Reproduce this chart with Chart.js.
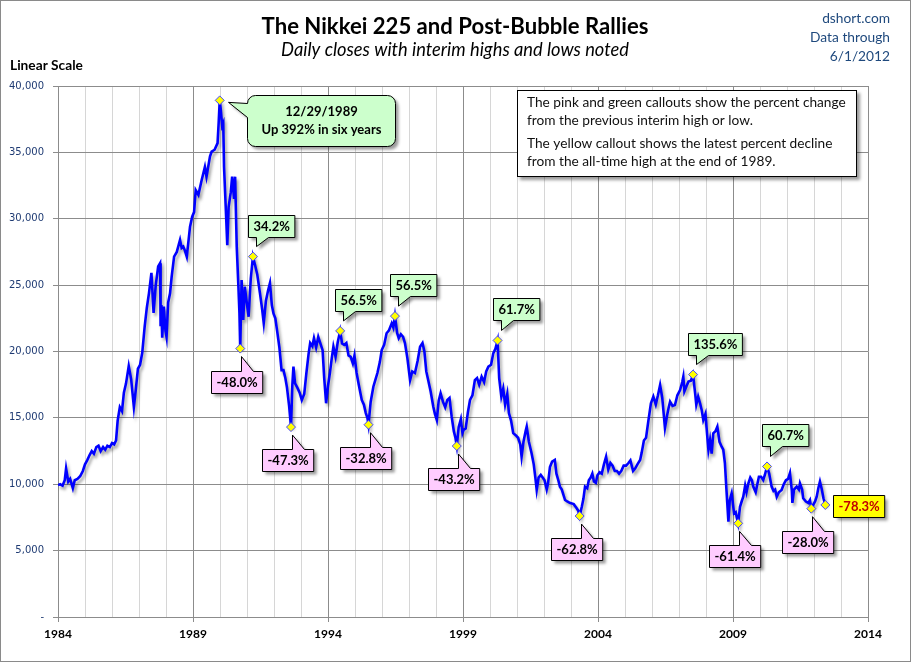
<!DOCTYPE html>
<html>
<head>
<meta charset="utf-8">
<title>The Nikkei 225 and Post-Bubble Rallies</title>
<script src="https://cdn.jsdelivr.net/npm/chart.js@4.4.1/dist/chart.umd.min.js"></script>
<style>
    html, body { margin: 0; padding: 0; background: #fff; }
    canvas { display: block; }
</style>
</head>
<body>
<canvas id="nikkeiChart" width="911" height="662"></canvas>
<script>
// Nikkei 225 closes (decimal year, index level)
const dates = [
    1984.00, 1984.08, 1984.17, 1984.25, 1984.30, 1984.38, 1984.45, 1984.55, 1984.62, 1984.72, 1984.82, 1984.92,
    1985.00, 1985.08, 1985.17, 1985.25, 1985.33, 1985.42, 1985.50, 1985.58, 1985.67, 1985.75, 1985.83, 1985.92,
    1986.00, 1986.08, 1986.15, 1986.21, 1986.29, 1986.37, 1986.44, 1986.52, 1986.62, 1986.71, 1986.81, 1986.88, 1986.96,
    1987.04, 1987.12, 1987.21, 1987.29, 1987.37, 1987.46, 1987.54, 1987.62, 1987.71, 1987.78, 1987.80, 1987.83, 1987.86, 1987.92, 1987.98,
    1988.02, 1988.08, 1988.15, 1988.21, 1988.30, 1988.40, 1988.52, 1988.58, 1988.64, 1988.70, 1988.77, 1988.89, 1988.97,
    1989.04, 1989.10, 1989.20, 1989.32, 1989.44, 1989.50, 1989.63, 1989.69, 1989.80, 1989.91, 1989.95, 1989.99,
    1990.03, 1990.08, 1990.12, 1990.15, 1990.21, 1990.27, 1990.32, 1990.40, 1990.45, 1990.52, 1990.56, 1990.62, 1990.68, 1990.72, 1990.75, 1990.80, 1990.86, 1990.92, 1990.98,
    1991.06, 1991.14, 1991.22, 1991.30, 1991.38, 1991.48, 1991.56, 1991.62, 1991.70, 1991.78, 1991.85, 1991.92, 1991.98,
    1992.05, 1992.12, 1992.20, 1992.28, 1992.35, 1992.42, 1992.48, 1992.56, 1992.63, 1992.68, 1992.72, 1992.78, 1992.86, 1992.95,
    1993.03, 1993.12, 1993.20, 1993.28, 1993.34, 1993.42, 1993.48, 1993.56, 1993.64, 1993.72, 1993.80, 1993.86, 1993.93,
    1994.00, 1994.07, 1994.14, 1994.20, 1994.28, 1994.36, 1994.45, 1994.52, 1994.60, 1994.68, 1994.76, 1994.84, 1994.92, 1994.98,
    1995.06, 1995.14, 1995.25, 1995.33, 1995.40, 1995.46, 1995.50, 1995.58, 1995.68, 1995.76, 1995.83, 1995.92, 1995.99,
    1996.08, 1996.17, 1996.26, 1996.36, 1996.42, 1996.48, 1996.56, 1996.62, 1996.70, 1996.78, 1996.85, 1996.94,
    1997.04, 1997.12, 1997.22, 1997.32, 1997.41, 1997.50, 1997.57, 1997.64, 1997.71, 1997.80, 1997.90, 1997.96,
    1998.03, 1998.10, 1998.17, 1998.26, 1998.34, 1998.42, 1998.50, 1998.58, 1998.66, 1998.72, 1998.77, 1998.84, 1998.92, 1998.98,
    1999.02, 1999.10, 1999.18, 1999.26, 1999.35, 1999.44, 1999.52, 1999.60, 1999.69, 1999.78, 1999.86, 1999.94,
    2000.04, 2000.12, 2000.20, 2000.28, 2000.34, 2000.42, 2000.49, 2000.56, 2000.64, 2000.70, 2000.78, 2000.86, 2000.95,
    2001.04, 2001.12, 2001.17, 2001.24, 2001.32, 2001.36, 2001.44, 2001.54, 2001.62, 2001.68, 2001.73, 2001.80, 2001.88, 2001.95,
    2002.02, 2002.10, 2002.15, 2002.22, 2002.30, 2002.40, 2002.46, 2002.53, 2002.59, 2002.66, 2002.72, 2002.78, 2002.86, 2002.95,
    2003.03, 2003.10, 2003.21, 2003.27, 2003.32, 2003.40, 2003.46, 2003.52, 2003.60, 2003.66, 2003.73, 2003.79, 2003.85, 2003.92, 2003.98,
    2004.06, 2004.14, 2004.22, 2004.30, 2004.38, 2004.46, 2004.54, 2004.62, 2004.70, 2004.78, 2004.86, 2004.95,
    2005.04, 2005.12, 2005.20, 2005.30, 2005.38, 2005.46, 2005.56, 2005.62, 2005.70, 2005.78, 2005.86, 2005.96,
    2006.05, 2006.14, 2006.22, 2006.30, 2006.38, 2006.48, 2006.56, 2006.62, 2006.67, 2006.76, 2006.85, 2006.94,
    2007.04, 2007.12, 2007.16, 2007.20, 2007.28, 2007.35, 2007.44, 2007.52, 2007.60, 2007.64, 2007.71, 2007.78, 2007.84, 2007.90, 2007.98,
    2008.04, 2008.09, 2008.15, 2008.21, 2008.27, 2008.35, 2008.42, 2008.50, 2008.58, 2008.64, 2008.70, 2008.76, 2008.83, 2008.88, 2008.95,
    2009.04, 2009.10, 2009.19, 2009.26, 2009.32, 2009.38, 2009.45, 2009.50, 2009.57, 2009.64, 2009.70, 2009.75, 2009.84, 2009.90, 2009.96,
    2010.04, 2010.12, 2010.18, 2010.26, 2010.34, 2010.43, 2010.50, 2010.56, 2010.62, 2010.70, 2010.80, 2010.88, 2010.96,
    2011.04, 2011.11, 2011.18, 2011.20, 2011.26, 2011.36, 2011.44, 2011.48, 2011.56, 2011.60, 2011.70, 2011.79, 2011.85, 2011.90, 2011.97,
    2012.04, 2012.10, 2012.16, 2012.22, 2012.29, 2012.35, 2012.42
];

const closes = [
    9930, 10000, 9900, 10300, 11190, 10200, 10400, 9703, 10300, 10400, 10600, 11000,
    11500, 11800, 12200, 12500, 12300, 12800, 12900, 12500, 12800, 12600, 12900, 12800,
    13100, 13000, 13300, 14800, 15800, 15500, 16900, 17600, 18900, 17900, 15820, 17100, 18700,
    19000, 19900, 21870, 23300, 24400, 25929, 22900, 25000, 26400, 26646, 21910, 23500, 21036, 23380, 21564,
    21100, 23700, 24380, 25640, 27140, 27500, 28400, 27800, 27900, 27600, 27140, 29400, 30150,
    30500, 32160, 31800, 32900, 33900, 33170, 34700, 35050, 35200, 35700, 37200, 38916,
    38200, 37000, 37200, 33900, 31000, 28002, 30900, 32000, 33170, 31500, 33170, 27900, 25000, 22900, 20222, 25390, 22370, 24880, 23849,
    22620, 25500, 27147, 26500, 25800, 24400, 23200, 22140, 23800, 24600, 25160, 23500, 22870,
    22500, 21500, 20300, 18600, 18600, 18000, 17300, 15900, 14309, 17500, 18860, 17600, 17300, 16900,
    16350, 16800, 18380, 19800, 20640, 20400, 21000, 20300, 21100, 20600, 20100, 18000, 16100,
    17400, 18380, 19500, 20360, 19600, 20700, 21552, 20600, 20500, 20640, 19700, 19600, 19100, 19700,
    18380, 17500, 16350, 16000, 15360, 15000, 14485, 16200, 17350, 17900, 18380, 19200, 20110,
    20500, 21370, 21600, 22120, 21800, 22666, 21400, 21000, 21300, 21110, 20640, 19500,
    17850, 18500, 18380, 19300, 20360, 20640, 20000, 18500, 17850, 17000, 15840, 15300,
    14840, 16300, 16850, 16200, 15800, 16350, 16500, 15090, 14000, 13500, 12880, 14300, 14900, 13850,
    14090, 14200, 15400, 16350, 16700, 17850, 18000, 17500, 18100, 17700, 18500, 18860,
    19000, 19860, 20200, 20833, 18000, 16600, 17200, 16000, 16800, 15360, 14800, 13850, 13700,
    13500, 13000, 12080, 13200, 14000, 14340, 13200, 12330, 11500, 10500, 9570, 10500, 10700, 10500,
    10300, 9600, 10070, 11300, 11700, 11830, 10800, 10300, 9820, 9600, 9200, 8810, 8700, 8600,
    8560, 8500, 8190, 8000, 7607, 8300, 8900, 9820, 9700, 10300, 10500, 10800, 10200, 10100, 10677,
    10900, 10800, 11500, 12080, 11100, 11600, 11400, 11000, 11000, 10800, 11000, 11400,
    11400, 11580, 11800, 11000, 11200, 11500, 11830, 12400, 13300, 13500, 14700, 16100,
    16600, 16000, 16700, 17480, 16500, 14240, 15200, 15800, 16220, 15900, 15970, 16700,
    17100, 17700, 18100, 17000, 17400, 17730, 17800, 18262, 16800, 16000, 16600, 16100, 15600, 14840, 15300,
    13800, 12580, 13330, 12300, 13840, 14000, 14340, 13200, 12830, 12600, 11600, 9500, 7180, 8800, 9320,
    7810, 7900, 7055, 8300, 8700, 9060, 9900, 9400, 10070, 10500, 10300, 9820, 9400, 10000, 10570,
    10570, 10320, 10700, 11339, 10800, 9820, 9500, 9600, 9060, 9400, 9570, 10000, 10300,
    10400, 10850, 9500, 8600, 9600, 9820, 9600, 10070, 9600, 8940, 8700, 8590, 8800, 8160, 8450,
    8700, 9060, 9700, 10200, 9600, 8940, 8440
];

// Interim highs and lows (yellow diamonds) and their callout texts
const markerDates = [1989.99, 1990.75, 1991.22, 1992.63, 1994.45, 1995.50, 1996.48, 1998.77, 2000.28, 2003.32, 2007.52, 2009.19, 2010.26, 2011.90, 2012.42];
const markerCloses = [38916, 20222, 27147, 14309, 21552, 14485, 22666, 12880, 20833, 7607, 18262, 7055, 11339, 8160, 8440];
const markerLabels = ['12/29/1989|Up 392% in six years', '-48.0%', '34.2%', '-47.3%', '56.5%', '-32.8%', '56.5%', '-43.2%', '61.7%', '-62.8%', '135.6%', '-61.4%', '60.7%', '-28.0%', '-78.3%'];
const markerKinds = ['peak', 'low', 'high', 'low', 'high', 'low', 'high', 'low', 'high', 'low', 'high', 'low', 'high', 'low', 'latest'];

// Years that carry a label and a darker grid line
const labelYears = [1984, 1989, 1994, 1999, 2004, 2009, 2014];

const infoLines = [
    'The pink and green callouts show the percent change',
    'from the previous interim high or low.',
    'The yellow callout shows the latest percent decline',
    'from the all-time high at the end of 1989.'
];

// Callout look, offsets in pixels from the marker
const calloutLook = {
    peak:   { fill: '#CCFFCC', text: '#000', dx: 27, dy: -5, w: 148, h: 51, r: 8, tip: [8, 2], side: 'left' },
    high:   { fill: '#CCFFCC', text: '#000', dx: -5, dy: -42, h: 22, r: 0, tip: [3, -10], side: 'bottom' },
    low:    { fill: '#FFCCFF', text: '#000', dx: -29, dy: 22, h: 22, r: 0, tip: [1, 8], side: 'top' },
    latest: { fill: '#FFFF00', text: '#C00000', dx: 8, dy: -10, h: 22, r: 0, tip: null, side: null }
};

const FONT = 'Lato, "Open Sans", sans-serif';

function fitSize(ctx, text, weight, style, base, target) {
    ctx.font = `${style} ${weight} ${base}px ${FONT}`;
    return base * target / ctx.measureText(text).width;
}

function isLabelYear(v) {
    return labelYears.includes(Math.round(v));
}

function calloutPath(ctx, l, t, w, h, r, tip, side) {
    const R = l + w, B = t + h;
    ctx.beginPath();
    ctx.moveTo(l + r, t);
    if (side === 'top') {
        ctx.lineTo(tip.x, t); ctx.lineTo(tip.x, tip.y); ctx.lineTo(tip.x + 12, t);
    }
    ctx.lineTo(R - r, t);
    ctx.arcTo(R, t, R, t + r, r);
    ctx.lineTo(R, B - r);
    ctx.arcTo(R, B, R - r, B, r);
    if (side === 'bottom') {
        ctx.lineTo(tip.x + 12, B); ctx.lineTo(tip.x, tip.y); ctx.lineTo(tip.x, B);
    }
    ctx.lineTo(l + r, B);
    ctx.arcTo(l, B, l, B - r, r);
    if (side === 'left') {
        ctx.lineTo(l, t + 22); ctx.lineTo(tip.x, tip.y); ctx.lineTo(l, t + 8);
    }
    ctx.lineTo(l, t + r);
    ctx.arcTo(l, t, l + r, t, r);
    ctx.closePath();
}

function withShadow(ctx, fn) {
    ctx.save();
    ctx.shadowColor = 'rgba(0, 0, 0, 0.4)';
    ctx.shadowBlur = 3;
    ctx.shadowOffsetX = 3;
    ctx.shadowOffsetY = 3;
    fn();
    ctx.restore();
}

const decorPlugin = {
    id: 'decor',
    beforeDraw(chart) {
        const ctx = chart.ctx;
        ctx.save();
        ctx.fillStyle = '#fff';
        ctx.fillRect(0, 0, chart.width, chart.height);
        ctx.restore();
    },
    // soft drop shadow under the blue line
    beforeDatasetDraw(chart, args) {
        if (args.index !== 1) return;
        const ctx = chart.ctx;
        ctx.save();
        ctx.shadowColor = 'rgba(0, 0, 0, 0.35)';
        ctx.shadowBlur = 3;
        ctx.shadowOffsetX = 2;
        ctx.shadowOffsetY = 3;
    },
    afterDatasetDraw(chart, args) {
        if (args.index !== 1) return;
        chart.ctx.restore();
    },
    afterDatasetsDraw(chart) {
        const ctx = chart.ctx;
        const xs = chart.scales.x, ys = chart.scales.y;

        // info box
        withShadow(ctx, () => {
            ctx.fillStyle = '#fff';
            ctx.fillRect(517, 90, 340, 87);
        });
        ctx.strokeStyle = '#000';
        ctx.lineWidth = 1;
        ctx.strokeRect(517.5, 90.5, 339, 86);
        const infoSize = fitSize(ctx, infoLines[0], 'normal', 'normal', 13, 319);
        ctx.font = `normal ${infoSize}px ${FONT}`;
        ctx.fillStyle = '#111';
        ctx.textAlign = 'left';
        ctx.textBaseline = 'middle';
        [103, 121, 144, 162].forEach((y, i) => ctx.fillText(infoLines[i], 527, y));

        // callouts
        markerDates.forEach((d, i) => {
            const look = calloutLook[markerKinds[i]];
            const px = xs.getPixelForValue(d);
            const py = ys.getPixelForValue(markerCloses[i]);
            const lines = markerLabels[i].split('|');
            ctx.font = `bold 13px ${FONT}`;
            const w = look.w || Math.max(46, ctx.measureText(lines[0]).width + 10);
            const l = Math.round(px + look.dx) + 0.5;
            const t = Math.round(py + look.dy) + 0.5;
            const tip = look.tip ? { x: Math.round(px + look.tip[0]) + 0.5, y: py + look.tip[1] } : null;

            withShadow(ctx, () => {
                calloutPath(ctx, l, t, w, look.h, look.r, tip, look.side);
                ctx.fillStyle = look.fill;
                ctx.fill();
            });
            calloutPath(ctx, l, t, w, look.h, look.r, tip, look.side);
            ctx.strokeStyle = '#000';
            ctx.lineWidth = 1;
            ctx.stroke();

            ctx.fillStyle = look.text;
            ctx.textAlign = 'center';
            ctx.textBaseline = 'middle';
            if (lines.length === 1) {
                ctx.fillText(lines[0], l + w / 2, t + look.h / 2 + 0.5);
            } else {
                ctx.fillText(lines[0], l + w / 2, t + 16);
                ctx.fillText(lines[1], l + w / 2, t + 34);
            }
        });
    },
    afterDraw(chart) {
        const ctx = chart.ctx;
        ctx.save();
        ctx.textBaseline = 'middle';

        // title and subtitle
        ctx.fillStyle = '#000';
        ctx.textAlign = 'center';
        const title = 'The Nikkei 225 and Post-Bubble Rallies';
        ctx.font = `bold ${fitSize(ctx, title, 'bold', 'normal', 20, 387)}px ${FONT}`;
        ctx.fillText(title, 455, 27);
        const sub = 'Daily closes with interim highs and lows noted';
        ctx.font = `italic normal ${fitSize(ctx, sub, 'normal', 'italic', 16, 348)}px ${FONT}`;
        ctx.fillText(sub, 455, 50);

        // source block, top right
        ctx.fillStyle = '#1F497D';
        ctx.textAlign = 'right';
        const src = 'Data through';
        ctx.font = `normal ${fitSize(ctx, src, 'normal', 'normal', 14, 80)}px ${FONT}`;
        ctx.fillText('dshort.com', 890, 19);
        ctx.fillText(src, 890, 38);
        ctx.fillText('6/1/2012', 890, 57);

        // axis caption
        ctx.fillStyle = '#000';
        ctx.textAlign = 'left';
        ctx.font = `bold ${fitSize(ctx, 'Linear Scale', 'bold', 'normal', 13, 73)}px ${FONT}`;
        ctx.fillText('Linear Scale', 10, 66);

        // outer frame
        ctx.strokeStyle = '#8a8a8a';
        ctx.lineWidth = 1;
        ctx.strokeRect(0.5, 0.5, chart.width - 1, chart.height - 1);
        ctx.restore();
    }
};

const majorGrid = '#8c8c8c';
const minorGrid = '#d6d6d6';

const ctx = document.getElementById('nikkeiChart').getContext('2d');
const nikkeiChart = new Chart(ctx, {
    type: 'line',
    data: {
        datasets: [
            {
                label: 'Interim highs and lows',
                data: markerDates.map((d, i) => ({ x: d, y: markerCloses[i] })),
                showLine: false,
                pointStyle: 'rectRot',
                pointRadius: 4.5,
                pointBackgroundColor: '#FFFF00',
                pointBorderColor: '#4646FF',
                pointBorderWidth: 1,
                order: 0
            },
            {
                label: 'Nikkei 225',
                data: dates.map((d, i) => ({ x: d, y: closes[i] })),
                borderColor: '#0000FF',
                borderWidth: 2.6,
                pointRadius: 0,
                tension: 0,
                fill: false,
                order: 1
            }
        ]
    },
    options: {
        responsive: false,
        animation: false,
        events: [],
        layout: {
            padding: { left: 0, right: 43, top: 86, bottom: 0 }
        },
        plugins: {
            legend: { display: false },
            tooltip: { enabled: false }
        },
        scales: {
            x: {
                type: 'linear',
                min: 1984,
                max: 2014,
                afterFit(scale) { scale.height = 45; },
                ticks: {
                    stepSize: 1,
                    maxTicksLimit: 100,
                    autoSkip: false,
                    maxRotation: 0,
                    minRotation: 0,
                    padding: 5,
                    color: '#000',
                    font: { family: FONT, size: 12, weight: 'bold' },
                    callback: v => (isLabelYear(v) ? String(v) : '')
                },
                grid: {
                    color: c => (c.tick && isLabelYear(c.tick.value) ? majorGrid : minorGrid),
                    tickColor: c => (c.tick && isLabelYear(c.tick.value) ? majorGrid : 'rgba(0,0,0,0)'),
                    tickLength: 5
                },
                border: { color: majorGrid }
            },
            y: {
                min: 0,
                max: 40000,
                afterFit(scale) { scale.width = 58; },
                ticks: {
                    stepSize: 5000,
                    padding: 9,
                    color: '#1F3B73',
                    font: { family: '"DejaVu Sans", Verdana, sans-serif', size: 10 },
                    callback: v => (v === 0 ? '-' : v.toLocaleString('en-US'))
                },
                grid: {
                    color: majorGrid,
                    tickColor: majorGrid,
                    tickLength: 5
                },
                border: { color: majorGrid }
            }
        }
    },
    plugins: [decorPlugin]
});
</script>
</body>
</html>
